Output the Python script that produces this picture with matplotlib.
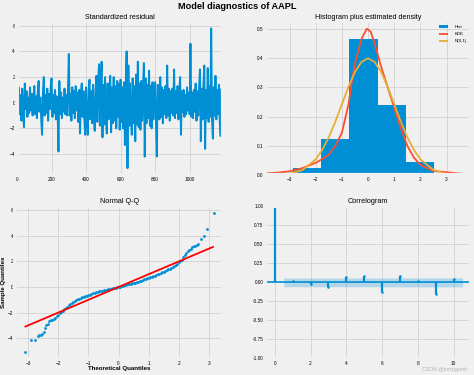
import matplotlib
matplotlib.use("Agg")
import matplotlib.pyplot as plt
import numpy as np

# ---- 数据：从原图读出 ----
# 标准化残差（每 5 个样本取一个读数）
RESID_STEP = 5
resid = [
    0.8, -1.3, 1.2, -0.9, 0.6, -1.4, 1.1, -0.7, -1.9, 1.5, -0.5, 0.9, -1.1, 0.4, -0.8, 1.2, -0.6, 0.7, -1.0, 0.3,
    1.3, -0.9, 0.5, -1.2, 0.8, 1.7, -0.7, 0.4, -1.3, -2.5, 0.9, 2.0, -1.0, 0.6, -0.8, 1.1, -1.4, 0.7, -0.5, 1.2,
    1.9, -1.1, 0.6, -0.8, 1.0, -1.3, 0.5, -0.6, -3.8, 1.7, -0.9, 0.8, -1.2, 0.4, -0.7, 1.1, -0.9, 0.6, -1.0, 0.9,
    3.8, -1.0, 0.7, -1.4, 1.2, -0.8, 0.9, -1.2, 1.3, -0.6, 0.8, -1.5, 1.0, -2.4, 0.7, 1.5, -1.1, 0.9, -1.3, -2.5,
    1.2, -1.4, -2.5, 1.0, 1.8, -1.3, 0.9, -1.6, 1.4, -0.9, -2.2, 1.1, 2.1, -1.5, 1.6, 3.0, -1.8, 1.3, 3.2, -2.7,
    1.4, -1.7, 2.0, -1.2, -2.4, 1.5, -1.3, 1.1, 2.1, -2.3, 1.2, -1.6, 2.0, -1.4, 1.3, -2.0, 1.7, -1.1, 1.5, -2.1,
    1.8, -1.5, 1.2, -2.0, 1.6, -3.3, 1.4, 4.0, -5.1, 2.9, -1.8, 1.5, -1.2, -2.5, 1.9, -1.6, 1.3, -3.0, 2.2, -1.7,
    3.2, -1.9, 1.5, -2.1, 1.7, -1.4, 1.2, 3.1, -4.2, 1.9, -1.6, 1.4, -1.2, 2.5, -1.8, 1.3, -2.0, 1.6, -1.3, 1.0,
    1.6, -1.5, -4.2, 1.4, 0.9, -1.3, 2.0, -1.1, 1.2, -1.6, 1.0, -0.9, 1.3, -1.2, 2.9, -1.0, 1.1, -1.4, 0.9, -0.8,
    1.1, -1.0, 2.6, -1.2, 0.9, -0.8, 1.3, -1.3, 0.7, 2.0, -2.5, 0.9, -0.7, 1.0, -1.1, 0.6, -0.9, 1.2, -0.6, 0.8,
    -0.9, 4.6, -1.1, 0.8, -1.2, 1.0, -0.7, 1.5, -1.4, 0.9, -1.0, 1.2, 2.6, -3.0, 1.1, -1.3, 1.4, 2.9, -3.6, 1.0,
    -1.2, 2.7, -1.5, 1.3, -1.1, 5.8, -1.4, -2.8, 1.2, -1.0, 2.1, -1.3, 1.0, -0.9, 1.4, -1.6, -2.6, 1.1, -1.2, 3.3,
]

# 直方图（density=True，10 个箱）
hist_edges = [-5.05, -3.96, -2.88, -1.80, -0.72, 0.37, 1.45, 2.53, 3.62, 4.70, 5.78]
hist_density = [0.001, 0.002, 0.025, 0.125, 0.465, 0.240, 0.045, 0.004, 0.002, 0.001]

# KDE 曲线
kde_x = [-3.92, -3.5, -3.0, -2.5, -2.0, -1.75, -1.5, -1.25, -1.0, -0.75, -0.6, -0.5, -0.25,
         -0.05, 0.1, 0.25, 0.5, 0.75, 1.0, 1.25, 1.5, 1.75, 2.0, 2.5, 3.0, 3.5, 3.92]
kde_y = [0.006, 0.008, 0.013, 0.024, 0.042, 0.055, 0.07, 0.10, 0.145, 0.24, 0.333, 0.38, 0.465,
         0.50, 0.49, 0.45, 0.37, 0.30, 0.23, 0.16, 0.10, 0.06, 0.035, 0.014, 0.010, 0.005, 0.003]

# N(0,1) 曲线
norm_x = [-3.92, -3.5, -3.0, -2.5, -2.0, -1.75, -1.5, -1.25, -1.0, -0.75, -0.5, -0.25, 0.0,
          0.25, 0.5, 0.75, 1.0, 1.25, 1.5, 1.75, 2.0, 2.5, 3.0, 3.5, 3.92]
norm_y = [0.0002, 0.0009, 0.0044, 0.0175, 0.054, 0.0863, 0.1295, 0.1826, 0.242, 0.3011, 0.3521, 0.3867, 0.3989,
          0.3867, 0.3521, 0.3011, 0.242, 0.1826, 0.1295, 0.0863, 0.054, 0.0175, 0.0044, 0.0009, 0.0002]

# Q-Q 图：尾部单点 + 中段密集点
qq_theoretical = [
    -3.12, -2.91, -2.79, -2.68, -2.63, -2.58, -2.53, -2.48, -2.45,
    -2.40, -2.35, -2.30, -2.25, -2.20, -2.15, -2.10, -2.05, -2.00, -1.95, -1.90, -1.85,
    -1.80, -1.75, -1.70, -1.65, -1.60, -1.55, -1.50, -1.45, -1.40, -1.35, -1.30, -1.25,
    -1.20, -1.15, -1.10, -1.05, -1.00, -0.95, -0.90, -0.85, -0.80, -0.75, -0.70, -0.65,
    -0.60, -0.55, -0.50, -0.45, -0.40, -0.35, -0.30, -0.25, -0.20, -0.15, -0.10, -0.05,
    0.00, 0.05, 0.10, 0.15, 0.20, 0.25, 0.30, 0.35, 0.40, 0.45, 0.50, 0.55,
    0.60, 0.65, 0.70, 0.75, 0.80, 0.85, 0.90, 0.95, 1.00, 1.05, 1.10, 1.15,
    1.20, 1.25, 1.30, 1.35, 1.40, 1.45, 1.50, 1.55, 1.60, 1.65, 1.70, 1.75,
    1.80, 1.85, 1.90, 1.95, 2.00, 2.05, 2.10, 2.15, 2.20, 2.25, 2.30, 2.35, 2.40,
    2.45, 2.50, 2.55, 2.60, 2.65, 2.73, 2.83, 2.95, 3.16,
]
qq_sample = [
    -5.04, -4.13, -4.13, -3.79, -3.74, -3.71, -3.64, -3.48, -3.20,
    -3.00, -2.85, -2.68, -2.60, -2.55, -2.50, -2.42, -2.30, -2.18, -2.06, -1.95, -1.85,
    -1.75, -1.63, -1.52, -1.42, -1.33, -1.22, -1.13, -1.06, -1.00, -0.95, -0.90, -0.85,
    -0.80, -0.76, -0.72, -0.67, -0.63, -0.59, -0.55, -0.50, -0.46, -0.42, -0.38, -0.34,
    -0.31, -0.28, -0.26, -0.23, -0.21, -0.18, -0.16, -0.13, -0.11, -0.08, -0.05, -0.03,
    0.00, 0.03, 0.07, 0.10, 0.14, 0.17, 0.20, 0.23, 0.26, 0.29, 0.32, 0.35,
    0.39, 0.43, 0.47, 0.51, 0.55, 0.59, 0.64, 0.68, 0.72, 0.76, 0.81, 0.85,
    0.90, 0.95, 1.01, 1.05, 1.10, 1.15, 1.20, 1.26, 1.32, 1.38, 1.44, 1.51,
    1.58, 1.66, 1.74, 1.83, 1.92, 2.03, 2.15, 2.32, 2.52, 2.66, 2.78, 2.88, 2.98,
    3.10, 3.18, 3.22, 3.26, 3.38, 3.79, 3.97, 4.57, 5.77,
]
qq_line_x = [-3.12, 3.16]
qq_line_y = [-3.11, 3.16]

# 自相关
acf_lags = list(range(11))
acf_values = [1.0, 0.015, -0.015, -0.065, 0.075, 0.08, -0.12, 0.08, 0.015, -0.155, 0.05]
acf_band = [0.057, 0.057, 0.057, 0.057, 0.058, 0.058, 0.059, 0.059, 0.059, 0.060]

# ---- 画图 ----
plt.style.use("fivethirtyeight")
plt.rcParams["font.family"] = ["Liberation Sans", "DejaVu Sans"]
plt.rcParams.update({
    "grid.linewidth": 0.5,
    "lines.linewidth": 1.3,
    "xtick.labelsize": 3.4,
    "ytick.labelsize": 3.4,
    "xtick.major.pad": 1.5,
    "ytick.major.pad": 1.5,
    "axes.titlesize": 5.2,
    "axes.labelsize": 4.4,
})
C0, C1, C2 = "#008fd5", "#fc4f30", "#e5ae38"

fig = plt.figure(figsize=(4.74, 3.75), dpi=100)
ax1 = fig.add_axes([0.036, 0.533, 0.435, 0.410])
ax2 = fig.add_axes([0.560, 0.533, 0.433, 0.410])
ax3 = fig.add_axes([0.032, 0.044, 0.439, 0.406])
ax4 = fig.add_axes([0.560, 0.044, 0.433, 0.406])

# 左上：标准化残差
resid_x = np.arange(len(resid)) * RESID_STEP
ax1.plot(resid_x, resid, color=C0, lw=1.4)
ax1.set_xlim(resid_x[0], resid_x[-1])
ax1.set_yticks([-4, -2, 0, 2, 4, 6])
ax1.set_title("Standardized residual", pad=2)

# 右上：直方图 + 密度
edges = np.array(hist_edges)
bars = ax2.bar(edges[:-1], hist_density, width=np.diff(edges), align="edge",
               color=C0, label="Hist", linewidth=0)
kde_line, = ax2.plot(kde_x, kde_y, color=C1, lw=1.3, label="KDE")
norm_line, = ax2.plot(norm_x, norm_y, color=C2, lw=1.3, label="N(0,1)")
ax2.set_xlim(-3.92, 3.92)
ax2.set_ylim(0, 0.525)
ax2.set_xticks([-3, -2, -1, 0, 1, 2, 3])
ax2.legend(handles=[bars, kde_line, norm_line], loc="upper right", fontsize=3.2,
           frameon=False, handlelength=2.0, handletextpad=1.6,
           borderaxespad=0.4, labelspacing=0.7)
ax2.set_title("Histogram plus estimated density", pad=2)

# 左下：Q-Q
ax3.plot(qq_theoretical, qq_sample, "o", color=C0, markersize=2.0, markeredgewidth=0)
ax3.plot(qq_line_x, qq_line_y, color="red", lw=1.3)
ax3.set_xticks([-3, -2, -1, 0, 1, 2, 3])
ax3.set_yticks([-4, -2, 0, 2, 4, 6])
ax3.set_xlabel("Theoretical Quantiles", fontweight="bold", labelpad=0.5)
ax3.set_ylabel("Sample Quantiles", fontweight="bold", labelpad=1)
ax3.set_title("Normal Q-Q", pad=2)

# 右下：自相关图
lags = np.array(acf_lags, dtype=float)
band_x = lags[1:].copy()
band_x[0] -= 0.5
band_x[-1] += 0.5
band = np.array(acf_band)
ax4.fill_between(band_x, -band, band, color=C0, alpha=0.25, linewidth=0)
ax4.vlines(lags, 0, acf_values, color=C0, lw=1.6)
ax4.axhline(0, color=C0, lw=1.2)
ax4.plot(lags, acf_values, "o", color=C0, markersize=1.8, markeredgewidth=0)
ax4.set_xlim(-0.52, 10.95)
ax4.set_ylim(-1, 1)
ax4.set_xticks([0, 2, 4, 6, 8, 10])
ax4.set_yticks(np.arange(-1, 1.01, 0.25))
ax4.yaxis.set_major_formatter(matplotlib.ticker.FormatStrFormatter("%.2f"))
ax4.set_title("Correlogram", pad=2)

fig.suptitle("Model diagnostics of AAPL", fontsize=6.6, fontweight="bold", y=0.995, va="top")
fig.text(0.985, 0.016, "CSDN @pmzgpmh", ha="right", va="center", fontsize=3.8, color="#b5b5b5")

fig.savefig("out.png", dpi=100, facecolor=fig.get_facecolor())
